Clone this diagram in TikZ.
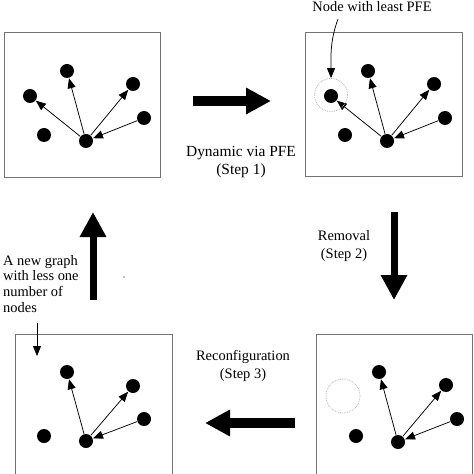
\documentclass[tikz,border=0pt]{standalone}
\usepackage{fontspec}
\setmainfont{Liberation Serif}
\usetikzlibrary{arrows.meta}

\tikzset{
  dot/.style={circle, fill=black, minimum size=14bp, inner sep=0pt, outer sep=0.5bp},
  frame/.style={draw=black!55, line width=1bp},
  link/.style={-{Triangle[length=10bp,width=8bp]}, line width=0.75bp},
  bigarrow/.style={line width=10bp, -{Triangle[length=25bp,width=25bp]}},
  tallarrow/.style={line width=7bp, -{Triangle[length=25bp,width=25bp]}},
  ghost/.style={draw=black!30, densely dotted, line width=0.8bp},
  lbl/.style={font=\fontsize{14.5}{17.5}\selectfont, align=center, inner sep=0pt},
}

\begin{document}
\begin{tikzpicture}[x=1bp, y=-1bp]
    \useasboundingbox (0,0) rectangle (474,474);
    \clip (0,0) rectangle (474,474);

    % first graph
    \draw[frame] (4,33) rectangle (160,178);
    \node[dot] (at) at (67,71) {};
    \node[dot] (al) at (30,96) {};
    \node[dot] (ar) at (133,84) {};
    \node[dot] (ax) at (144,118) {};
    \node[dot] (ay) at (44,135) {};
    \node[dot] (ah) at (86,141) {};
    \draw[link] (ah) -- (al);
    \draw[link] (ah) -- (at);
    \draw[link] (ah) -- (ar);
    \draw[link] (ax) -- (ah);

    % node with least PFE
    \draw[frame] (305,33) rectangle (462,177);
    \node[dot] (bt) at (368,71) {};
    \node[dot] (bl) at (331,96) {};
    \node[dot] (br) at (434,84) {};
    \node[dot] (bx) at (445,118) {};
    \node[dot] (by) at (345,135) {};
    \node[dot] (bh) at (387,141) {};
    \draw[link] (bh) -- (bl);
    \draw[link] (bh) -- (bt);
    \draw[link] (bh) -- (br);
    \draw[link] (bx) -- (bh);
    \node[ghost, circle, minimum size=33bp] (bc) at (331,95) {};
    \node[lbl, anchor=base] (least) at (372,11.5) {Node with least PFE};
    \coordinate (lf) at (338,19);
    \draw[link] (lf) to[out=250, in=90] (bc.north);

    % after removal
    \draw[frame] (316,334) rectangle (472,480);
    \node[dot] (dt) at (379,372) {};
    \node[dot] (dr) at (446,385) {};
    \node[dot] (dx) at (457,419) {};
    \node[dot] (dy) at (356,436) {};
    \node[dot] (dh) at (398,442) {};
    \draw[link] (dh) -- (dt);
    \draw[link] (dh) -- (dr);
    \draw[link] (dx) -- (dh);
    \draw[ghost] (343,396) circle (17);

    % new graph
    \draw[frame] (15,334) rectangle (172,480);
    \node[dot] (ct) at (67,372) {};
    \node[dot] (cr) at (133,386) {};
    \node[dot] (cx) at (144,419) {};
    \node[dot] (cy) at (44,436) {};
    \node[dot] (ch) at (86,441) {};
    \draw[link] (ch) -- (ct);
    \draw[link] (ch) -- (cr);
    \draw[link] (cx) -- (ch);
    \node[lbl, align=left, anchor=west, font=\fontsize{14.5}{16}\selectfont] (newg) at (3,284)
        {A new graph\\with less one\\number of\\nodes};
    \coordinate (n1) at (37,323);
    \coordinate (n2) at (37,356);
    \draw[link] (n1) -- (n2);
    \fill[black!45] (124,277) circle (0.8);

    % steps
    \coordinate (s1a) at (193,101);
    \coordinate (s1b) at (271,101);
    \draw[bigarrow] (s1a) -- (s1b);
    \node[lbl, font=\fontsize{15.5}{17.5}\selectfont] (step1) at (241,162) {Dynamic via PFE\\(Step 1)};

    \coordinate (s2a) at (394,212);
    \coordinate (s2b) at (394,300);
    \draw[tallarrow] (s2a) -- (s2b);
    \node[lbl] (step2) at (344,246) {Removal\\(Step 2)};

    \coordinate (s3a) at (295,423);
    \coordinate (s3b) at (205,423);
    \draw[bigarrow] (s3a) -- (s3b);
    \node[lbl] (step3) at (243,366) {Reconfiguration\\(Step 3)};

    \coordinate (s4a) at (93,300);
    \coordinate (s4b) at (93,212);
    \draw[tallarrow] (s4a) -- (s4b);
\end{tikzpicture}
\end{document}
